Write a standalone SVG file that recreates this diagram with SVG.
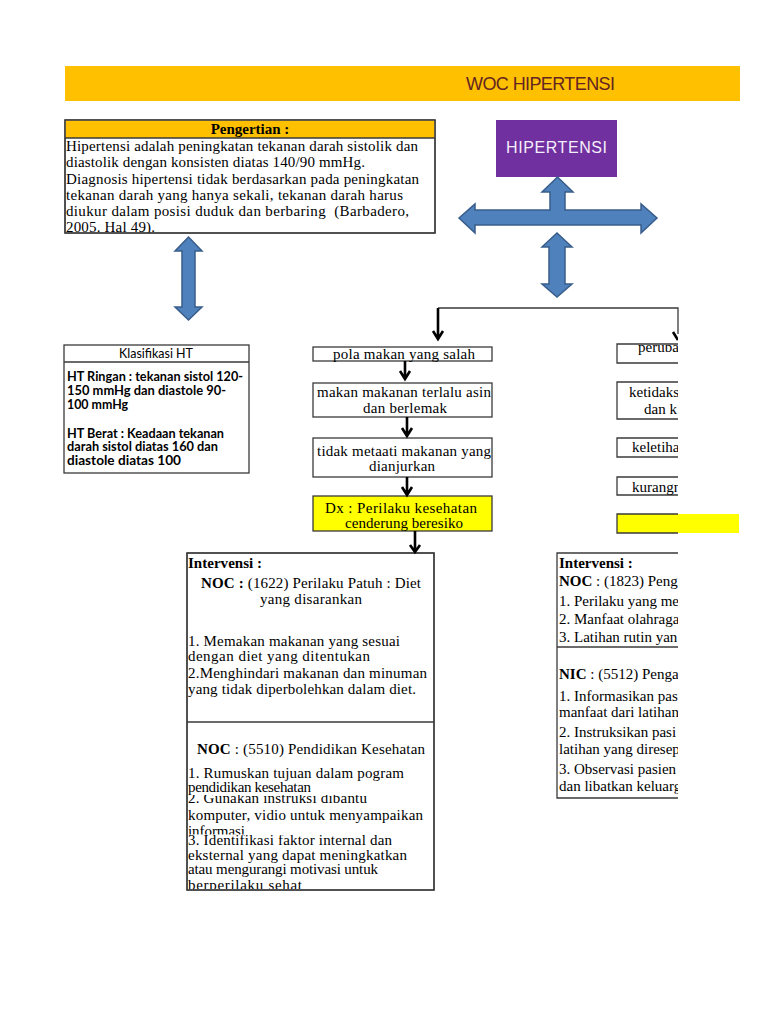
<svg xmlns="http://www.w3.org/2000/svg" width="768" height="1024" viewBox="0 0 768 1024">
<style>
.serif{font-family:"Liberation Serif","Times New Roman",serif;font-size:15px;fill:#000}
.b{font-weight:bold}
.cal{font-family:Lato,"Liberation Sans",sans-serif;font-size:12.5px;fill:#000}
.box{fill:#fff;stroke:#3a3a3a;stroke-width:1.3}
.line{fill:none;stroke:#3a3a3a;stroke-width:1.3}
.arr{fill:none;stroke:#000;stroke-width:2.6;stroke-linejoin:miter}
.blue{fill:#4F81BD;stroke:#385D8A;stroke-width:1.5;stroke-linejoin:miter}
.pre{white-space:pre}
</style>
<defs>
<clipPath id="clipR"><rect x="0" y="0" width="678" height="1024"/></clipPath>
<clipPath id="clipDef"><rect x="65" y="138" width="370" height="95"/></clipPath>
<clipPath id="clipPer"><rect x="617" y="345" width="61" height="18"/></clipPath>
<clipPath id="clipG2"><rect x="187" y="795" width="247" height="40"/></clipPath>
<clipPath id="clipInf"><rect x="187" y="800" width="247" height="34.5"/></clipPath>
<clipPath id="clipI3"><rect x="187" y="835" width="247" height="54"/></clipPath>
</defs>
<rect width="768" height="1024" fill="#fff"/>

<g id="title">
<rect x="65" y="66" width="675" height="35" fill="#FFC000"/>
<text x="466" y="90" font-family="Liberation Sans, Arial, sans-serif" font-size="18" fill="#632523" textLength="149">WOC HIPERTENSI</text>
</g>

<g id="pengertian">
<rect class="box" x="65" y="120" width="370" height="113"/>
<rect x="65.6" y="120.6" width="368.8" height="17.4" fill="#FFC000"/>
<line class="line" x1="65" y1="138" x2="435" y2="138" stroke-width="0.6"/>
<text class="serif b" x="250" y="134" text-anchor="middle">Pengertian :</text>
<g clip-path="url(#clipDef)">
<text class="serif" x="66" y="151" textLength="352">Hipertensi adalah peningkatan tekanan darah sistolik dan</text>
<text class="serif" x="66" y="167" textLength="299">diastolik dengan konsisten diatas 140/90 mmHg.</text>
<text class="serif" x="66" y="184" textLength="353">Diagnosis hipertensi tidak berdasarkan pada peningkatan</text>
<text class="serif" x="66" y="200" textLength="337">tekanan darah yang hanya sekali, tekanan darah harus</text>
<text class="serif pre" x="66" y="216" textLength="343">diukur dalam posisi duduk dan berbaring  (Barbadero,</text>
<text class="serif" x="66" y="232" textLength="89">2005. Hal 49).</text>
</g>
<rect x="65" y="120" width="370" height="113" fill="none" stroke="#3a3a3a" stroke-width="1.3"/>
</g>

<g id="hipertensi">
<rect x="496" y="120" width="121" height="57" fill="#7030A0"/>
<text x="556.5" y="153" text-anchor="middle" font-family="Liberation Sans, Arial, sans-serif" font-size="16" fill="#F5EEFB" textLength="101">HIPERTENSI</text>
</g>

<g id="blue-arrows">
<polygon class="blue" points="459,218 475,204 475,210 550,210 550,192 542,192 557.5,177 573,192 565,192 565,210 641,210 641,204 657,218 641,233 641,225 475,225 475,233"/>
<polygon class="blue" points="557,233 572,247 565,247 565,284 572,284 557,297 542,284 549,284 549,247 542,247"/>
<polygon class="blue" points="188.5,237 202,251 195,251 195,307 202,307 188.5,320 175,307 182,307 182,251 175,251"/>
</g>

<g id="klasifikasi">
<rect class="box" x="64" y="345" width="185" height="128"/>
<line class="line" x1="64" y1="362" x2="249" y2="362"/>
<text class="cal" x="156" y="358" text-anchor="middle" textLength="74" lengthAdjust="spacingAndGlyphs">Klasifikasi HT</text>
<text class="cal b" x="67" y="381" textLength="176" lengthAdjust="spacingAndGlyphs">HT Ringan : tekanan sistol 120-</text>
<text class="cal b" x="67" y="395" textLength="159" lengthAdjust="spacingAndGlyphs">150 mmHg dan diastole 90-</text>
<text class="cal b" x="67" y="409" textLength="61" lengthAdjust="spacingAndGlyphs">100 mmHg</text>
<text class="cal b" x="67" y="438" textLength="157" lengthAdjust="spacingAndGlyphs">HT Berat : Keadaan tekanan</text>
<text class="cal b" x="67" y="451" textLength="151" lengthAdjust="spacingAndGlyphs">darah sistol diatas 160 dan</text>
<text class="cal b" x="67" y="465" textLength="114" lengthAdjust="spacingAndGlyphs">diastole diatas 100</text>
</g>

<g id="pola-makan">
<rect class="box" x="313" y="347" width="179" height="14"/>
<text class="serif" x="333" y="359" textLength="142">pola makan yang salah</text>
</g>
<g id="makan-asin">
<rect class="box" x="313" y="383" width="179" height="34"/>
<text class="serif" x="317" y="397" textLength="174">makan makanan terlalu asin</text>
<text class="serif" x="363" y="413" textLength="84">dan berlemak</text>
</g>
<g id="tidak-metaati">
<rect class="box" x="313" y="438" width="179" height="39"/>
<text class="serif" x="317" y="456" textLength="174">tidak metaati makanan yang</text>
<text class="serif" x="369" y="471" textLength="66">dianjurkan</text>
</g>
<g id="dx-left">
<rect x="313" y="496" width="179" height="35" fill="#FFFF00" stroke="#3a3a3a" stroke-width="1.3"/>
<text class="serif" x="325" y="513" textLength="152">Dx : Perilaku kesehatan</text>
<text class="serif" x="345" y="528" textLength="118">cenderung beresiko</text>
</g>

<g id="right-column" clip-path="url(#clipR)">
<g id="perubahan">
<path class="line" d="M678,344 H617 V363 H678"/>
<text class="serif" x="638" y="352" clip-path="url(#clipPer)">perubah</text>
</g>
<g id="ketidakseimbangan">
<path class="line" d="M678,382 H617 V419 H678"/>
<text class="serif" x="629" y="397">ketidaks</text>
<text class="serif" x="644" y="414">dan k</text>
</g>
<g id="keletihan">
<path class="line" d="M678,438 H617 V457 H678"/>
<text class="serif" x="632" y="452">keletiha</text>
</g>
<g id="kurangnya">
<path class="line" d="M678,477 H617 V495 H678"/>
<text class="serif" x="632" y="492">kurangn</text>
</g>
<g id="intervensi-right">
<path class="line" d="M678,553 H557 V798 H678"/>
<line class="line" x1="557" y1="647" x2="678" y2="647"/>
<text class="serif b" x="559" y="568">Intervensi :</text>
<text class="serif" x="559" y="586"><tspan class="b">NOC</tspan> : (1823) Peng</text>
<text class="serif" x="559" y="606">1. Perilaku yang me</text>
<text class="serif" x="559" y="624">2. Manfaat olahraga</text>
<text class="serif" x="559" y="642">3. Latihan rutin yan</text>
<text class="serif" x="559" y="679"><tspan class="b">NIC</tspan> : (5512) Penga</text>
<text class="serif" x="559" y="701">1. Informasikan pas</text>
<text class="serif" x="559" y="717">manfaat dari latihan</text>
<text class="serif" x="559" y="737">2. Instruksikan pasi</text>
<text class="serif" x="559" y="754">latihan yang diresep</text>
<text class="serif" x="559" y="774">3. Observasi pasien</text>
<text class="serif" x="559" y="791">dan libatkan keluarg</text>
</g>
</g>
<g id="dx-right">
<rect x="617" y="514" width="122" height="19" fill="#FFFF00"/>
<path class="line" d="M678,514 H617 V533 H678"/>
</g>

<g id="intervensi-left">
<rect class="box" x="187" y="553" width="247" height="337"/>
<line class="line" x1="187" y1="722" x2="434" y2="722"/>
<text class="serif b" x="188" y="568" textLength="74">Intervensi :</text>
<text class="serif" x="201" y="588" textLength="220"><tspan class="b">NOC :</tspan> (1622) Perilaku Patuh : Diet</text>
<text class="serif" x="260" y="604" textLength="102">yang disarankan</text>
<text class="serif" x="188" y="646" textLength="212">1. Memakan makanan yang sesuai</text>
<text class="serif" x="188" y="661" textLength="182">dengan diet yang ditentukan</text>
<text class="serif" x="188" y="678" textLength="239">2.Menghindari makanan dan minuman</text>
<text class="serif" x="188" y="694" textLength="228">yang tidak diperbolehkan dalam diet.</text>
<text class="serif" x="197" y="754" textLength="228"><tspan class="b">NOC</tspan> : (5510) Pendidikan Kesehatan</text>
<text class="serif" x="188" y="778" textLength="216">1. Rumuskan tujuan dalam pogram</text>
<text class="serif" x="188" y="792" textLength="123">pendidikan kesehatan</text>
<text class="serif" x="188" y="803" textLength="179" clip-path="url(#clipG2)">2. Gunakan instruksi dibantu</text>
<text class="serif" x="188" y="820" textLength="235">komputer, vidio untuk menyampaikan</text>
<text class="serif" x="188" y="836" textLength="57" clip-path="url(#clipInf)">informasi</text>
<text class="serif" x="188" y="845" textLength="204" clip-path="url(#clipI3)">3. Identifikasi faktor internal dan</text>
<text class="serif" x="188" y="860" textLength="219">eksternal yang dapat meningkatkan</text>
<text class="serif" x="188" y="874" textLength="190">atau mengurangi motivasi untuk</text>
<text class="serif" x="188" y="890" textLength="114" clip-path="url(#clipI3)">berperilaku sehat</text>
<rect x="187" y="553" width="247" height="337" fill="none" stroke="#3a3a3a" stroke-width="1.3"/>
</g>

<g id="connectors">
<path class="line" d="M438,308 H678 V334"/>
<path class="arr" d="M438,308 V339 M433,331 L438,339 L443,331"/>
<path class="arr" d="M673,332 L678,340" clip-path="url(#clipR)"/>
<path class="arr" d="M405,361 V379 M400,371 L405,379 L410,371"/>
<path class="arr" d="M407,417 V436 M402,428 L407,436 L412,428"/>
<path class="arr" d="M407,477 V495 M402,487 L407,495 L412,487"/>
<path class="arr" d="M415,531 V552 M410,545 L415,552 L420,545"/>
</g>
</svg>
